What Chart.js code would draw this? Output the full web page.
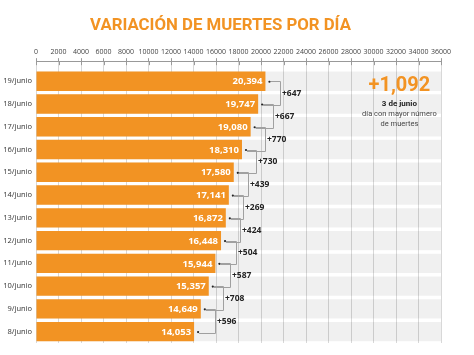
<!DOCTYPE html>
<html>
<head>
<meta charset="utf-8">
<script src="https://cdn.jsdelivr.net/npm/chart.js@4"></script>
<style>
  html, body { margin: 0; padding: 0; background: #ffffff; }
  #wrap { width: 474px; height: 355px; }
</style>
</head>
<body>
<div id="wrap"><canvas id="c" width="474" height="355"></canvas></div>
<script>
const days = ['19/junio','18/junio','17/junio','16/junio','15/junio','14/junio','13/junio','12/junio','11/junio','10/junio','9/junio','8/junio'];
const deaths = [20394, 19747, 19080, 18310, 17580, 17141, 16872, 16448, 15944, 15357, 14649, 14053];
const diffLabels = ['+647','+667','+770','+730','+439','+269','+424','+504','+587','+708','+596'];
const xMax = 36000;
const xStep = 2000;
const titleText = 'VARIACIÓN DE MUERTES POR DÍA';
const highlightValue = '+1,092';
const highlightDate = '3 de junio';
const highlightLines = ['día con mayor número', 'de muertes'];

const ORANGE = '#F29323';
const FONT = "'Open Sans', 'DejaVu Sans', sans-serif";
const FONT2 = "Roboto, 'Open Sans', sans-serif";

const fmt = v => v.toLocaleString('en-US');

const annotations = {
  id: 'annotations',
  afterDatasetsDraw(chart) {
    const ctx = chart.ctx;
    const els = chart.getDatasetMeta(0).data;
    const xs = chart.scales.x;
    const ca = chart.chartArea;
    ctx.save();
    // darker tick stubs just below the top axis line
    ctx.strokeStyle = '#999';
    ctx.lineWidth = 1;
    xs.ticks.forEach(t => {
      const px = Math.round(xs.getPixelForValue(t.value)) + 0.5;
      ctx.beginPath();
      ctx.moveTo(px, ca.top);
      ctx.lineTo(px, ca.top + 3.5);
      ctx.stroke();
    });
    // brackets with differences
    for (let i = 0; i < els.length - 1; i++) {
      const a = els[i], b = els[i + 1];
      const vx = Math.round(Math.max(a.x, b.x) + 14.5) + 0.5;
      const y1 = Math.round(a.y) + 0.5, y2 = Math.round(b.y) + 1.5;
      ctx.strokeStyle = '#a0a0a0';
      ctx.lineWidth = 1;
      ctx.beginPath();
      ctx.moveTo(a.x + 5, y1);
      ctx.lineTo(vx, y1);
      ctx.lineTo(vx, y2);
      ctx.lineTo(b.x + 5, y2);
      ctx.stroke();
      ctx.fillStyle = '#222';
      ctx.font = "bold 8.5px " + FONT;
      ctx.textAlign = 'left';
      ctx.textBaseline = 'middle';
      ctx.fillText(diffLabels[i], vx + 1.5, (a.y + b.y) / 2 + 1);
    }
    // values and dots
    els.forEach((el, i) => {
      ctx.fillStyle = '#ffffff';
      ctx.font = "bold 9.5px " + FONT;
      ctx.textAlign = 'right';
      ctx.textBaseline = 'middle';
      ctx.fillText(fmt(deaths[i]), el.x - 3, el.y + 0.5);
      ctx.fillStyle = '#222';
      ctx.beginPath();
      ctx.arc(el.x + 4, el.y + 0.5, 1.1, 0, Math.PI * 2);
      ctx.fill();
    });
    // highlight note
    const cx = xs.getPixelForValue(32300);
    const top = ca.top;
    ctx.textAlign = 'center';
    ctx.textBaseline = 'middle';
    ctx.fillStyle = ORANGE;
    ctx.font = "bold 20px " + FONT2;
    ctx.fillText(highlightValue, cx, top + 24);
    ctx.fillStyle = '#222';
    ctx.font = "bold 8px " + FONT2;
    ctx.fillText(highlightDate, cx, top + 42.5);
    ctx.fillStyle = '#444';
    ctx.font = "7.5px " + FONT2;
    highlightLines.forEach((t, k) => ctx.fillText(t, cx, top + 52.5 + k * 9.5));
    ctx.restore();
  }
};

new Chart(document.getElementById('c'), {
  type: 'bar',
  data: {
    datasets: [
      {
        label: 'Muertes',
        data: deaths.map((v, i) => ({ x: v, y: i })),
        backgroundColor: ORANGE,
        borderWidth: 0,
        order: 0
      },
      {
        label: 'fondo',
        data: days.map((d, i) => ({ x: xMax, y: i })),
        backgroundColor: 'rgba(0,0,0,0.06)',
        borderWidth: 0,
        order: 1
      }
    ]
  },
  options: {
    indexAxis: 'y',
    responsive: false,
    animation: false,
    devicePixelRatio: 1,
    datasets: { bar: { grouped: false, barPercentage: 0.85, categoryPercentage: 1 } },
    layout: { padding: { left: 0, right: 33, top: 0, bottom: 12 } },
    plugins: {
      legend: { display: false },
      tooltip: { enabled: false },
      title: {
        display: true,
        text: titleText,
        color: ORANGE,
        font: { family: "Roboto, sans-serif", size: 16.8, weight: 'bold' },
        padding: { top: 15.5, bottom: 6 }
      }
    },
    scales: {
      x: {
        position: 'top',
        min: 0,
        max: xMax,
        ticks: { stepSize: xStep, autoSkip: false, maxRotation: 0, callback: v => String(v), font: { family: FONT, size: 7 }, color: '#444', padding: 2 },
        grid: { color: '#d8d8d8', tickColor: '#999', tickLength: 3.5, lineWidth: 1 },
        border: { color: '#999' },
        afterFit(s) { s.height = 20; }
      },
      y: {
        type: 'linear',
        reverse: true,
        offset: false,
        min: -0.86,
        max: 11.5,
        afterBuildTicks(s) { s.ticks = days.map((d, i) => ({ value: i })); },
        ticks: { callback: v => days[v], font: { family: FONT, size: 7.5 }, color: '#333', padding: 4 },
        grid: { display: false, drawTicks: false, tickLength: 0 },
        border: { display: false },
        afterFit(s) { s.width = 36; }
      }
    }
  },
  plugins: [annotations]
});
</script>
</body>
</html>
